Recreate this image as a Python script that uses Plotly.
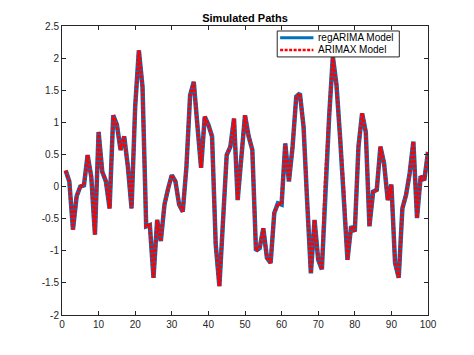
import plotly.graph_objects as go

t = list(range(1, 101))
reg_arima = [
    0.25, 0.08, -0.67, -0.15, 0.0, 0.02, 0.49, 0.15, -0.75, 0.85,
    0.23, 0.08, -0.34, 1.11, 0.96, 0.57, 0.78, 0.31, -0.34, 1.25,
    2.12, 1.55, -0.62, -0.60, -1.42, -0.52, -0.85, -0.28, -0.03, 0.18,
    0.08, -0.28, -0.39, 0.31, 1.42, 1.63, 0.95, 0.29, 1.09, 0.96,
    0.78, -0.90, -1.55, -0.42, 0.49, 0.62, 1.06, -0.21, 0.39, 1.11,
    0.78, 0.57, -1.00, -0.96, -0.65, -1.11, -1.19, -0.41, -0.26, -0.28,
    0.67, 0.08, 0.62, 1.40, 1.45, 0.93, -0.25, -1.35, -0.52, -1.14,
    -1.29, 0.10, 1.10, 2.02, 1.58, 0.75, -0.10, -1.14, -0.62, -0.70,
    0.62, 1.14, 0.85, -0.62, -0.08, -0.05, 0.62, 0.36, -0.21, 0.03,
    -1.19, -1.42, -0.34, -0.13, 0.21, 0.70, -0.49, 0.16, 0.10, 0.54,
]
arimax = list(reg_arima)

series_names = ["regARIMA Model", "ARIMAX Model"]
series_colors = ["#0072BD", "#FF0000"]

x_ticks = [0, 10, 20, 30, 40, 50, 60, 70, 80, 90, 100]
y_ticks = [-2, -1.5, -1, -0.5, 0, 0.5, 1, 1.5, 2, 2.5]
y_tick_labels = ["-2", "-1.5", "-1", "-0.5", "0", "0.5", "1", "1.5", "2", "2.5"]

axis_color = "#262626"
font_family = "Liberation Sans, Arial, sans-serif"
red_dash = "3px,1.5px"

fig = go.Figure()
fig.add_trace(go.Scatter(
    x=t, y=reg_arima, mode="lines", name=series_names[0],
    line=dict(color=series_colors[0], width=4.5),
))
fig.add_trace(go.Scatter(
    x=t, y=arimax, mode="lines", name=series_names[1],
    line=dict(color=series_colors[1], width=3.5, dash=red_dash),
))

# compact MATLAB-style legend box (plotly's own legend rows are too tall)
lx0, lx1, ly0, ly1 = 0.588, 0.9216, 0.893, 0.9827
rows_y = [0.9596, 0.917]
shapes = [dict(type="rect", xref="paper", yref="paper", x0=lx0, x1=lx1,
               y0=ly0, y1=ly1, fillcolor="white",
               line=dict(color=axis_color, width=1), layer="above")]
annotations = []
for i, (name, col) in enumerate(zip(series_names, series_colors)):
    shapes.append(dict(type="line", xref="paper", yref="paper",
                       x0=0.596, x1=0.687, y0=rows_y[i], y1=rows_y[i],
                       line=dict(color=col, width=3 if i == 0 else 2.5,
                                 dash="solid" if i == 0 else red_dash),
                       layer="above"))
    annotations.append(dict(text=name, xref="paper", yref="paper",
                            x=0.693, y=rows_y[i], xanchor="left",
                            yanchor="middle", showarrow=False,
                            font=dict(size=10, color="black",
                                      family=font_family)))

# page body has an 8px margin, so the figure is sized/offset to compensate
fig.update_layout(
    width=466, height=347,
    margin=dict(l=54, r=46, t=18, b=40),
    paper_bgcolor="white", plot_bgcolor="white",
    font=dict(family=font_family, size=10, color=axis_color),
    title=dict(text="<b>Simulated Paths</b>", x=0.5, xref="paper",
               y=1, yref="paper", yanchor="bottom", pad=dict(b=4),
               font=dict(size=11, color="black", family=font_family)),
    showlegend=False,
    shapes=shapes,
    annotations=annotations,
)
fig.update_xaxes(
    range=[0, 100], tickvals=x_ticks, showgrid=False, zeroline=False,
    showline=True, linecolor=axis_color, linewidth=1, mirror="ticks",
    ticks="inside", ticklen=4, tickcolor=axis_color,
    tickfont=dict(size=10, color=axis_color),
)
fig.update_yaxes(
    range=[-2, 2.5], tickvals=y_ticks, ticktext=y_tick_labels,
    showgrid=False, zeroline=False,
    showline=True, linecolor=axis_color, linewidth=1, mirror="ticks",
    ticks="inside", ticklen=4, tickcolor=axis_color,
    tickfont=dict(size=10, color=axis_color),
)

fig.write_html("out.html")
